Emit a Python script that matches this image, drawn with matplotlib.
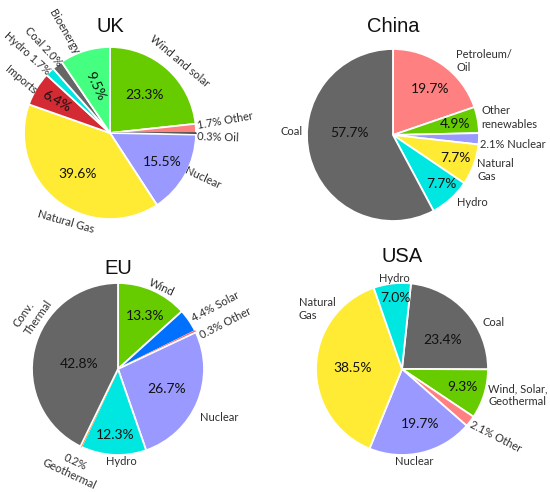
import numpy as np
import matplotlib
matplotlib.use("Agg")
import matplotlib.pyplot as plt

# ── Data ───────────────────────────────────────────────────────────────────────
uk_names  = ["Wind and solar", "Other", "Oil", "Nuclear", "Natural Gas",
             "Imports", "Hydro", "Coal", "Bioenergy"]
uk_values = [23.3, 1.7, 0.3, 15.5, 39.6, 6.4, 1.7, 2.0, 9.5]

cn_names  = ["Petroleum/\nOil", "Other\nrenewables", "Nuclear", "Natural\nGas", "Hydro", "Coal"]
cn_values = [19.7, 4.9, 2.1, 7.7, 7.7, 57.7]

eu_names  = ["Wind", "Solar", "Other", "Nuclear", "Hydro", "Geothermal", "Conv.\nThermal"]
eu_values = [13.3, 4.4, 0.3, 26.7, 12.3, 0.2, 42.8]

us_names  = ["Coal", "Wind, Solar,\nGeothermal", "Other", "Nuclear", "Natural\nGas", "Hydro"]
us_values = [23.4, 9.3, 2.1, 19.7, 38.5, 7.0]

# ── Colours ────────────────────────────────────────────────────────────────────
GREEN, PINK, NUC, YEL = "#66CC00", "#FF8080", "#9999FF", "#FFEB33"
CYAN, GREY = "#00E6E0", "#666666"
uk_colors = [GREEN, PINK, "#000000", NUC, YEL, "#D42A34", CYAN, GREY, "#44FF80"]
cn_colors = [PINK, GREEN, NUC, YEL, CYAN, GREY]
eu_colors = [GREEN, "#0070FF", "#FF6060", NUC, CYAN, "#FF7F27", GREY]
us_colors = [GREY, GREEN, PINK, NUC, YEL, CYAN]

# ── Label layout: (distance, angle offset, rotation, ha, format) ───────────────
uk_lab = [(1.16, -2, -40, "center", "{n}"), (1.02, 2, 10, "left", "{p} {n}"),
          (1.01, -2, -2, "left", "{p} {n}"), (1.20, 3, -25, "center", "{n}"),
          (1.15, 12, -16, "center", "{n}"), (1.21, 0, -40, "center", "{n}"),
          (1.34, 1.5, -42, "center", "{n} {p}"), (1.27, 0, -47, "center", "{n} {p}"),
          (1.29, 7, -60, "center", "{n}")]
uk_pct = [(0.60, 0, 0), None, None, (0.69, 0, 0), (0.60, 0, 0),
          (0.73, 0, -30), None, None, (0.57, 0, -65)]

cn_lab = [(1.13, -5, 0, "left", "{n}"), (1.05, 1, 0, "left", "{n}"),
          (1.02, -4, 0, "left", "{p} {n}"), (1.06, -2.6, 0, "left", "{n}"),
          (1.08, 1.4, 0, "left", "{n}"), (1.05, -16.6, 0, "right", "{n}")]
cn_pct = [(0.69, -3.5, 0), (0.73, 0, 0), None, (0.77, 0, 0), (0.80, 2.7, 0),
          (0.51, -17, 0)]

eu_lab = [(1.07, -4, -25, "center", "{n}"), (1.04, 0, 28, "left", "{p} {n}"),
          (1.03, -3.7, 27, "left", "{p} {n}"), (1.31, -2.8, 0, "center", "{n}"),
          (1.08, 5, 0, "center", "{n}"), (1.27, 0.6, -25, "center", "{p}\n{n}"),
          (1.18, -20, 55, "center", "{n}")]
eu_pct = [(0.69, -3, 0), None, None, (0.61, 0, 0), (0.77, 1, 0), None,
          (0.46, 6, 0)]

us_lab = [(1.20, -15, 0, "center", "{n}"), (1.05, 0, 0, "left", "{n}"),
          (1.02, -1.5, -27, "left", "{p} {n}"), (1.09, -6, 0, "center", "{n}"),
          (1.21, -33.7, 0, "center", "{n}"), (1.06, -2, 0, "center", "{n}")]
us_pct = [(0.58, -7, 0), (0.73, 0, 0), None, (0.67, 4.7, 0), (0.57, 0.5, 0),
          (0.83, -1, 0)]

W, H, R = 550, 492, 86
LABEL_FONT = ["Lato", "DejaVu Sans"]


def draw_pie(ax, title, cx, cy, names, values, colors, start, explode,
             lab, pct, title_y):
    cy = H - cy
    wedges, _ = ax.pie(values, colors=colors, startangle=start, counterclock=False,
                       center=(cx, cy), radius=R, explode=explode,
                       wedgeprops=dict(edgecolor="white", linewidth=1.3))
    total = sum(values)
    for w, v, n, c, L, P in zip(wedges, values, names, colors, lab, pct):
        if v / total < 0.005:
            w.set_edgecolor(c)
            w.set_linewidth(0.9)
        mid = (w.theta1 + w.theta2) / 2
        ptxt = f"{v:.1f}%"
        d, off, rot, ha, fmt = L
        th = np.deg2rad(mid + off)
        ax.text(cx + d * R * np.cos(th), cy + d * R * np.sin(th),
                fmt.format(n=n, p=ptxt), ha=ha, va="center", rotation=rot,
                rotation_mode="anchor", multialignment="left" if "\n" in n else "center",
                fontsize=8, color="#2e2e2e", family=LABEL_FONT, linespacing=1.25)
        if P is not None:
            d, off, rot = P
            th = np.deg2rad(mid + off)
            ax.text(cx + d * R * np.cos(th), cy + d * R * np.sin(th), ptxt,
                    ha="center", va="center", rotation=rot, rotation_mode="anchor",
                    fontsize=10, color="#111111", family=LABEL_FONT)
    ax.text(cx, H - title_y, title, ha="center", va="center", fontsize=14.5,
            family=["Liberation Sans", "DejaVu Sans"], color="#111111")


fig = plt.figure(figsize=(W / 100, H / 100), dpi=100)
ax = fig.add_axes([0, 0, 1, 1])

uk_explode = [0, 0, 0, 0, 0.025, 0, 0, 0, 0]
cn_explode = [0, 0, 0, 0, 0, 0.02]
eu_explode = [0] * len(eu_values)
us_explode = [0.03, 0, 0, 0, 0, 0]

draw_pie(ax, "UK", 110, 133, uk_names, uk_values, uk_colors, 90, uk_explode, uk_lab, uk_pct, 26)
draw_pie(ax, "China", 393, 135, cn_names, cn_values, cn_colors, 90, cn_explode, cn_lab, cn_pct, 26)
draw_pie(ax, "EU", 118, 369, eu_names, eu_values, eu_colors, 90, eu_explode, eu_lab, eu_pct, 269)
draw_pie(ax, "USA", 402, 369, us_names, us_values, us_colors, 84, us_explode, us_lab, us_pct, 257)

ax.set_xlim(0, W)
ax.set_ylim(0, H)
ax.set_aspect("equal")
ax.axis("off")

fig.savefig("out.png", dpi=100, facecolor="white")
